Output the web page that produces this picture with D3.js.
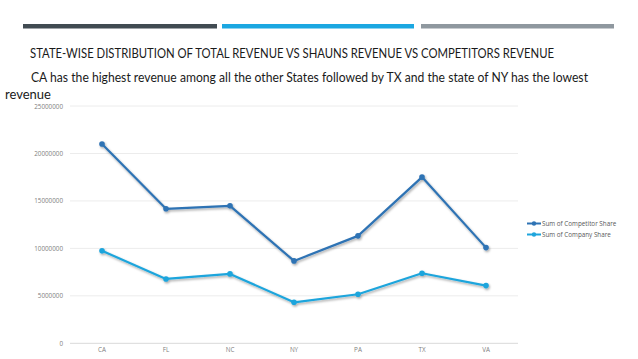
<!DOCTYPE html>
<html><head><meta charset="utf-8">
<script src="https://cdn.jsdelivr.net/npm/d3@7"></script>
<style>body{margin:0;background:#fff;}svg{display:block;}</style>
</head><body>
<svg id="c" width="638" height="359"></svg>
<script>
const states = ["CA","FL","NC","NY","PA","TX","VA"];
const competitorShare = [21000000,14170000,14480000,8680000,11320000,17510000,10080000];
const companyShare = [9740000,6780000,7310000,4320000,5170000,7380000,6080000];
const yTicks = [0,5000000,10000000,15000000,20000000,25000000];
const seriesNames = ["Sum of Competitor Share","Sum of Company Share"];
const seriesColors = ["#2e73b4","#1fa5dc"];

const svg = d3.select("#c");
const font = "'Open Sans', 'Noto Sans', sans-serif";
const hfont = "Lato, 'Open Sans', sans-serif";

// header bars
[[23,217,"#414b52"],[222,414,"#1ba7e1"],[421,614,"#8f989f"]].forEach(b=>{
  svg.append("rect").attr("x",b[0]).attr("y",24).attr("width",b[1]-b[0]).attr("height",4.5).attr("fill",b[2]);
});
svg.append("text").attr("x",30).attr("y",58).attr("font-family",hfont).attr("font-size",13)
  .attr("fill","#1a1a1a").attr("textLength",524).attr("lengthAdjust","spacingAndGlyphs")
  .text("STATE-WISE DISTRIBUTION OF TOTAL REVENUE VS SHAUNS REVENUE VS COMPETITORS REVENUE");
svg.append("text").attr("x",31).attr("y",81.5).attr("font-family",hfont).attr("font-size",13)
  .attr("fill","#1a1a1a").attr("textLength",557).attr("lengthAdjust","spacingAndGlyphs")
  .text("CA has the highest revenue among all the other States followed by TX and the state of NY has the lowest");
svg.append("text").attr("x",5).attr("y",99).attr("font-family",hfont).attr("font-size",13)
  .attr("fill","#1a1a1a").text("revenue");

const x = d3.scaleBand().domain(states).range([70,518]);
const y = d3.scaleLinear().domain([0,25000000]).range([343.3,106]);

const defs = svg.append("defs");
const f = defs.append("filter").attr("id","sh").attr("x","-10%").attr("y","-10%").attr("width","130%").attr("height","140%");
f.append("feDropShadow").attr("dx",1).attr("dy",1.5).attr("stdDeviation",0.8).attr("flood-color","#000").attr("flood-opacity",0.35);

// grid
svg.append("g").selectAll("line").data(yTicks).join("line")
  .attr("x1",70).attr("x2",518).attr("y1",d=>y(d)).attr("y2",d=>y(d))
  .attr("stroke",(d)=>d===0?"#d9d9d9":"#ececec").attr("stroke-width",1);

// y axis labels
const yAxis = d3.axisLeft(y).tickValues(yTicks).tickSize(0).tickPadding(0).tickFormat(d3.format("d"));
const gy = svg.append("g").attr("transform","translate(63,0)").call(yAxis);
gy.select(".domain").remove();
gy.selectAll("text").attr("font-family",font).attr("font-size",6.3).attr("fill","#808080");

// x axis labels
const xAxis = d3.axisBottom(x).tickSize(0).tickPadding(0);
const gx = svg.append("g").attr("transform","translate(0,347.5)").call(xAxis);
gx.select(".domain").remove();
gx.selectAll("text").attr("font-family",font).attr("font-size",6.3).attr("fill","#808080");

const line = d3.line().x((d,i)=>x(states[i])+x.bandwidth()/2).y(d=>y(d));
[competitorShare, companyShare].forEach((vals,si)=>{
  const g = svg.append("g").attr("filter","url(#sh)");
  g.append("path").datum(vals).attr("d",line).attr("fill","none")
    .attr("stroke",seriesColors[si]).attr("stroke-width",2.2).attr("stroke-linejoin","round");
  g.selectAll("circle").data(vals).join("circle")
    .attr("cx",(d,i)=>x(states[i])+x.bandwidth()/2).attr("cy",d=>y(d)).attr("r",2.8)
    .attr("fill",seriesColors[si]);
});

// legend
seriesNames.forEach((n,i)=>{
  const ly = 223.5 + i*11;
  const g = svg.append("g");
  g.append("line").attr("x1",527).attr("x2",541).attr("y1",ly).attr("y2",ly).attr("stroke",seriesColors[i]).attr("stroke-width",2);
  g.append("circle").attr("cx",534).attr("cy",ly).attr("r",2.2).attr("fill",seriesColors[i]);
  g.append("text").attr("x",542).attr("y",ly+2.2).attr("font-family",font).attr("font-size",6.3).attr("fill","#595959").text(n);
});
</script>
</body></html>
